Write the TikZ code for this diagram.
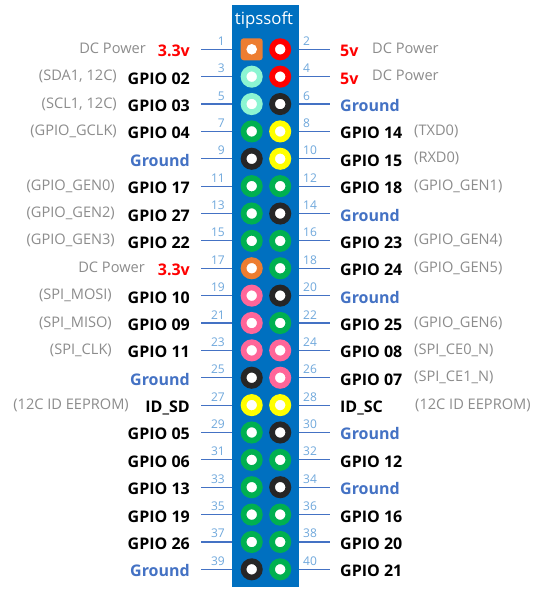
\documentclass[tikz,border=0pt]{standalone}
\usepackage{fontspec}
\setmainfont{Open Sans}
\definecolor{board}{HTML}{0070C0}
\definecolor{leadc}{HTML}{4472C4}
\definecolor{numc}{HTML}{6FA8DC}
\definecolor{grayc}{HTML}{8C8C8C}
\definecolor{gndc}{HTML}{4472C4}
\definecolor{redc}{HTML}{FF0000}
\definecolor{blk}{HTML}{000000}
\definecolor{porange}{HTML}{ED7D31}
\definecolor{pred}{HTML}{FF0000}
\definecolor{pmint}{HTML}{8CF5D2}
\definecolor{pgreen}{HTML}{00B050}
\definecolor{pyellow}{HTML}{FFFF00}
\definecolor{ppink}{HTML}{FF6699}
\definecolor{pblack}{HTML}{262626}
\begin{document}
\begin{tikzpicture}[x=1pt,y=-1pt,
  gpin/.style={circle, draw=#1, line width=5.7pt, fill=white, minimum size=16.3pt, inner sep=0pt},
  lead/.style={draw=leadc, line width=1.1pt},
  numl/.style={font=\fontsize{12}{14}\selectfont, text=numc, inner sep=0pt, anchor=base east},
  numr/.style={font=\fontsize{12}{14}\selectfont, text=numc, inner sep=0pt, anchor=base west},
  namel/.style={font=\fontsize{16}{19}\selectfont\bfseries, inner sep=0pt, anchor=base east},
  namer/.style={font=\fontsize{16}{19}\selectfont\bfseries, inner sep=0pt, anchor=base west},
  descl/.style={font=\fontsize{14.6}{17}\selectfont, text=grayc, inner sep=0pt, anchor=base east},
  descr/.style={font=\fontsize{14.6}{17}\selectfont, text=grayc, inner sep=0pt, anchor=base west}]
\useasboundingbox (0,0) rectangle (542,597);
\fill[white] (0,0) rectangle (542,597);
\node[fill=board, minimum width=67pt, minimum height=582pt, inner sep=0pt, anchor=north west] (board) at (232,5) {};
\node[font=\fontsize{16.8}{20}\selectfont, text=white, anchor=base, inner sep=0pt] (title) at (264,24) {tipssoft};
% left column (odd pins)
\foreach \r/\pc/\nm/\nc/\ds/\dx in {
  1/porange/3.3v/redc/DC Power/146,
  2/pmint/GPIO 02/blk/{(SDA1, 12C)}/117,
  3/pmint/GPIO 03/blk/{(SCL1, 12C)}/117,
  4/pgreen/GPIO 04/blk/(GPIO\_GCLK)/117,
  5/pblack/Ground/gndc//0,
  6/pgreen/GPIO 17/blk/(GPIO\_GEN0)/115,
  7/pgreen/GPIO 27/blk/(GPIO\_GEN2)/115,
  8/pgreen/GPIO 22/blk/(GPIO\_GEN3)/115,
  9/porange/3.3v/redc/DC Power/145,
  10/ppink/GPIO 10/blk/(SPI\_MOSI)/112,
  11/ppink/GPIO 09/blk/(SPI\_MISO)/112,
  12/ppink/GPIO 11/blk/(SPI\_CLK)/112,
  13/pblack/Ground/gndc//0,
  14/pyellow/ID\_SD/blk/(12C ID EEPROM)/129,
  15/pgreen/GPIO 05/blk//0,
  16/pgreen/GPIO 06/blk//0,
  17/pgreen/GPIO 13/blk//0,
  18/pgreen/GPIO 19/blk//0,
  19/pgreen/GPIO 26/blk//0,
  20/pblack/Ground/gndc//0}{
  \pgfmathsetmacro\yy{49.3+(\r-1)*27.37}
  \pgfmathtruncatemacro\pn{2*\r-1}
  \coordinate (la\pn) at (201,\yy);
  \coordinate (lb\pn) at (232,\yy);
  \draw[lead] (la\pn) -- (lb\pn);
  \ifnum\pn=1
    \node[fill=porange, rounded corners=3pt, minimum size=22pt, inner sep=0pt] (pin\pn) at (251.7,\yy) {};
    \node[circle, fill=white, minimum size=10.6pt, inner sep=0pt] (dot\pn) at (pin\pn.center) {};
  \else
    \node[gpin=\pc] (pin\pn) at (251.7,\yy) {};
  \fi
  \node[numl] (num\pn) at (225,\yy-4) {\pn};
  \node[namel, text=\nc] (name\pn) at (190,\yy+7.5) {\nm};
  \ifx\ds\empty\else
    \node[descl] (desc\pn) at (\dx,\yy+4) {\ds};
  \fi
}
% right column (even pins)
\foreach \r/\pc/\nm/\nc/\ds/\dx in {
  1/pred/5v/redc/DC Power/372,
  2/pred/5v/redc/DC Power/372,
  3/pblack/Ground/gndc//0,
  4/pyellow/GPIO 14/blk/(TXD0)/414,
  5/pyellow/GPIO 15/blk/(RXD0)/414,
  6/pgreen/GPIO 18/blk/(GPIO\_GEN1)/414,
  7/pblack/Ground/gndc//0,
  8/pgreen/GPIO 23/blk/(GPIO\_GEN4)/414,
  9/pgreen/GPIO 24/blk/(GPIO\_GEN5)/414,
  10/pblack/Ground/gndc//0,
  11/pgreen/GPIO 25/blk/(GPIO\_GEN6)/414,
  12/ppink/GPIO 08/blk/(SPI\_CE0\_N)/414,
  13/ppink/GPIO 07/blk/(SPI\_CE1\_N)/414,
  14/pyellow/ID\_SC/blk/(12C ID EEPROM)/415,
  15/pblack/Ground/gndc//0,
  16/pgreen/GPIO 12/blk//0,
  17/pblack/Ground/gndc//0,
  18/pgreen/GPIO 16/blk//0,
  19/pgreen/GPIO 20/blk//0,
  20/pgreen/GPIO 21/blk//0}{
  \pgfmathsetmacro\yy{49.3+(\r-1)*27.37}
  \pgfmathtruncatemacro\pn{2*\r}
  \coordinate (ra\pn) at (299,\yy);
  \coordinate (rb\pn) at (330,\yy);
  \draw[lead] (ra\pn) -- (rb\pn);
  \node[gpin=\pc] (pin\pn) at (280.2,\yy) {};
  \node[numr] (num\pn) at (303,\yy-4) {\pn};
  \node[namer, text=\nc] (name\pn) at (340,\yy+7.5) {\nm};
  \ifx\ds\empty\else
    \node[descr] (desc\pn) at (\dx,\yy+4) {\ds};
  \fi
}
\end{tikzpicture}
\end{document}
